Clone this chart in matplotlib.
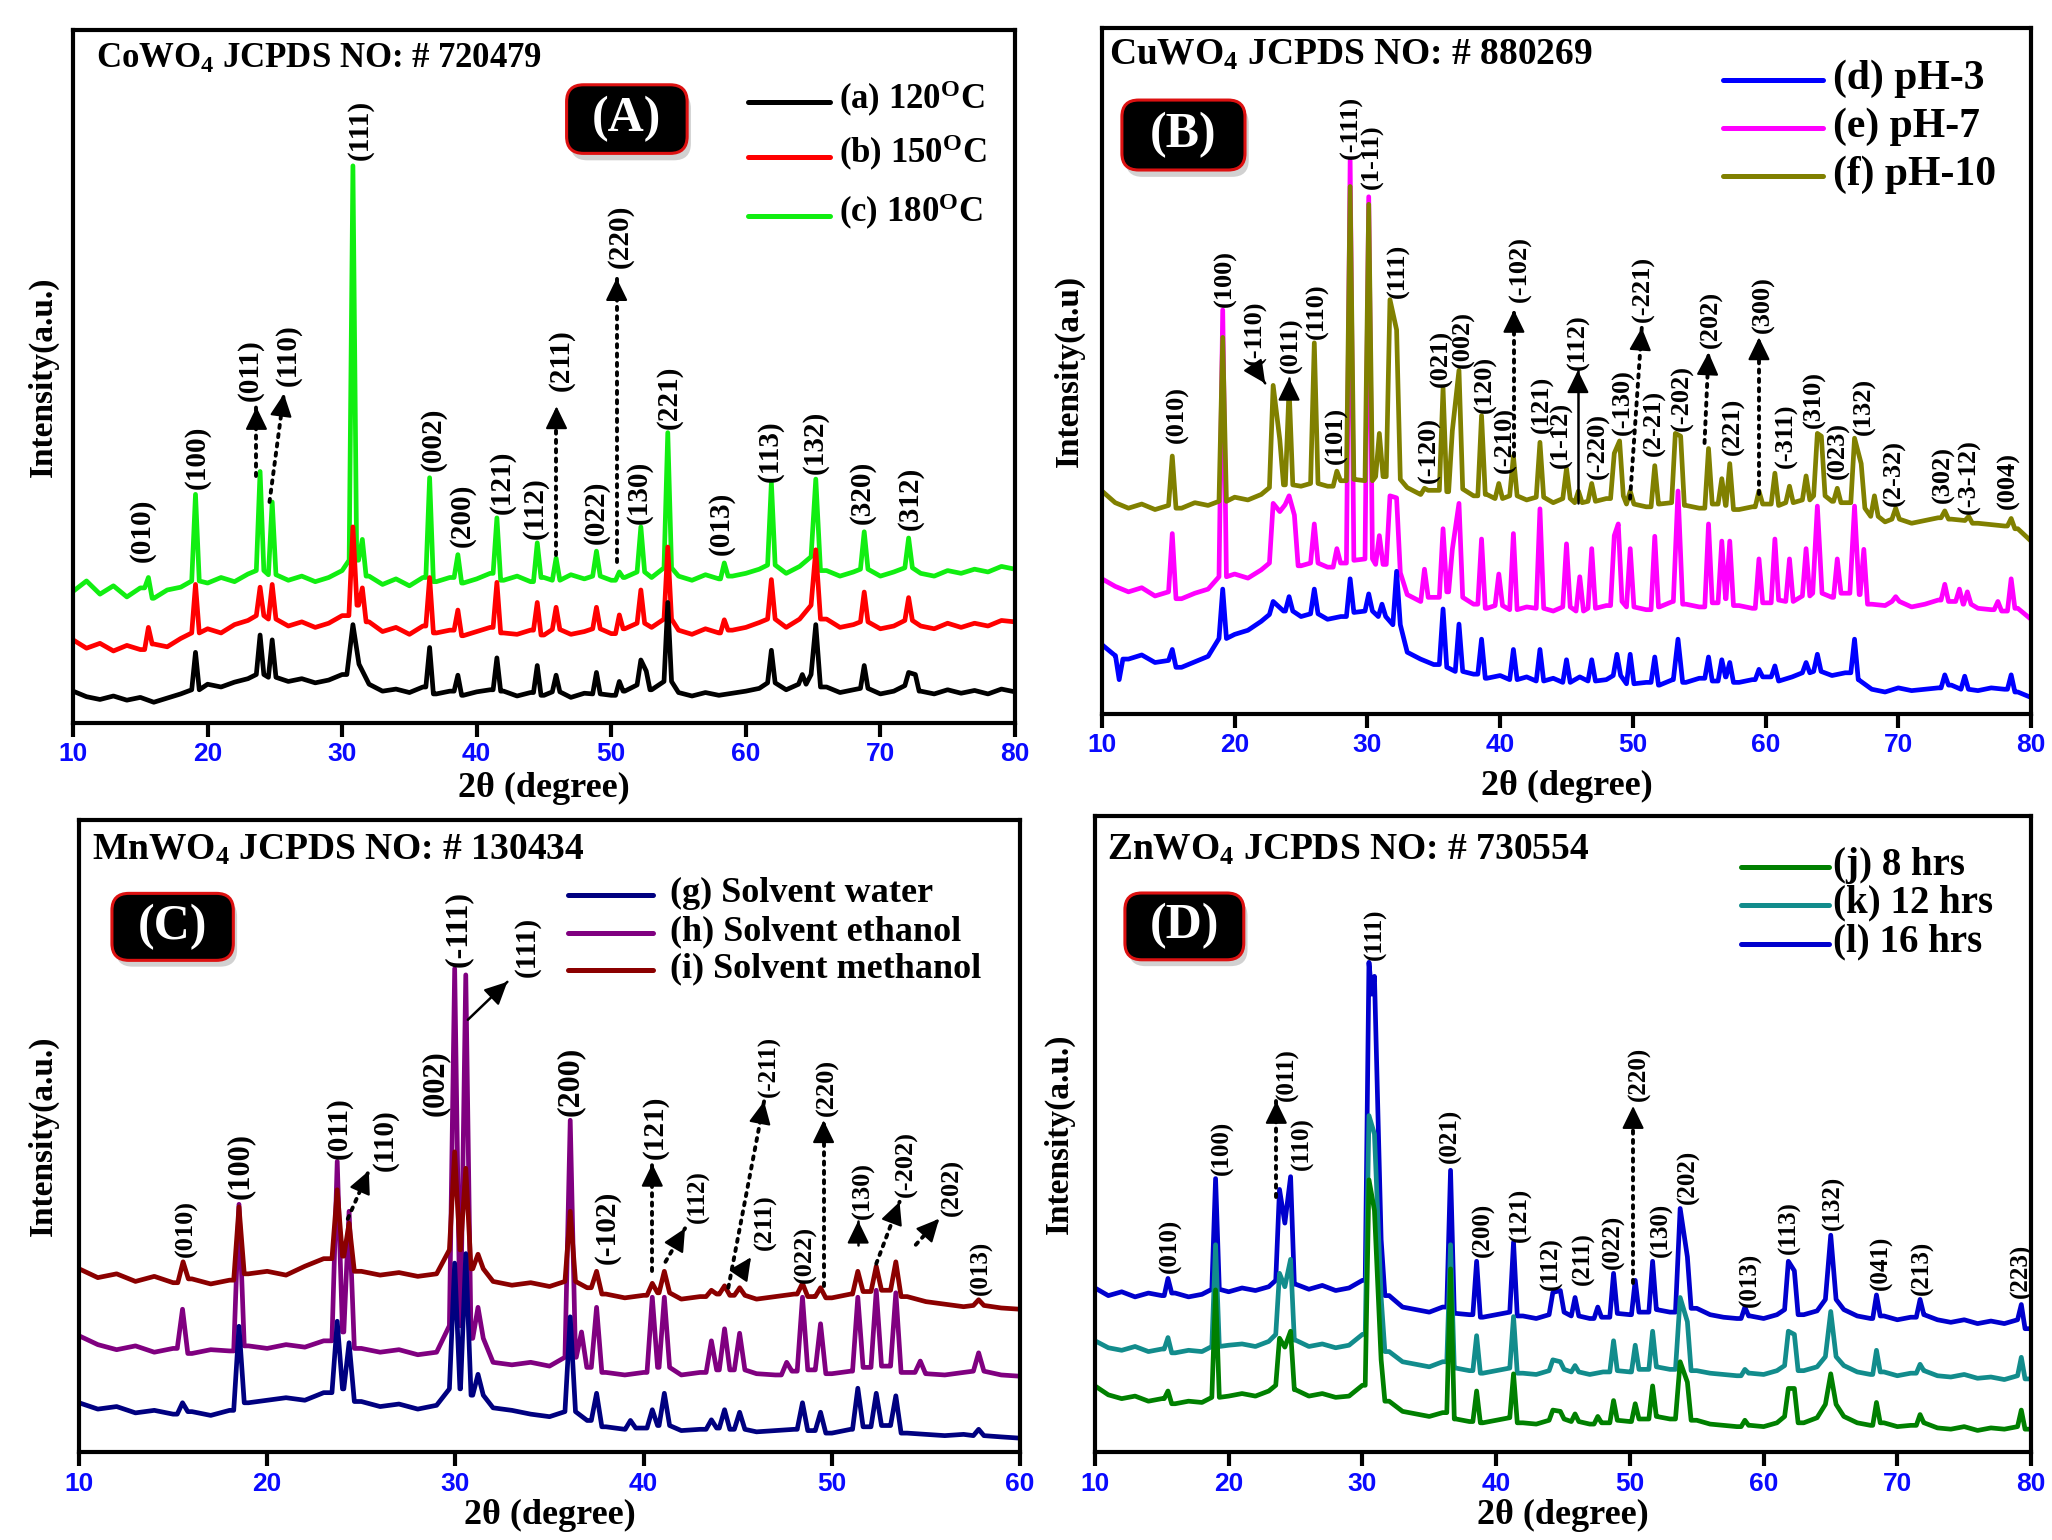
import numpy as np
import matplotlib
matplotlib.use('Agg')
import matplotlib.pyplot as plt
from matplotlib.patches import FancyBboxPatch
from matplotlib.transforms import offset_copy

plt.rcParams['font.family'] = ['Liberation Serif', 'DejaVu Serif']
plt.rcParams['font.weight'] = 'bold'
plt.rcParams['mathtext.fontset'] = 'custom'
plt.rcParams['mathtext.rm'] = 'Liberation Serif:bold'
plt.rcParams['mathtext.it'] = 'Liberation Serif:bold'
plt.rcParams['mathtext.bf'] = 'Liberation Serif:bold'

# ---------------- DATA (intensity in % of panel height, offsets included) -------------
# Panel A : CoWO4, baseline samples every 1 degree starting at 10
A_a_base = [4.6, 3.8, 3.4, 3.9, 3.3, 3.7, 3.0, 3.6, 4.2, 4.8,
            5.6, 5.2, 5.9, 6.4, 7.0, 6.6, 6.0, 6.4, 5.8, 6.2,
            7.0, 8.5, 5.6, 4.6, 4.9, 4.4, 5.2, 4.2, 4.6, 4.0,
            4.5, 4.8, 4.6, 3.9, 4.4, 4.0, 4.5, 3.7, 4.3, 4.2,
            4.0, 4.6, 5.5, 4.8, 6.0, 4.4, 3.9, 4.4, 4.0, 4.3,
            4.6, 5.0, 5.8, 4.8, 5.6, 7.0, 5.2, 4.4, 4.8, 5.0,
            4.2, 4.6, 5.4, 4.6, 4.2, 4.8, 4.3, 4.7, 4.2, 4.9,
            4.5]
A_a_peaks = [(19.1, 10.2), (23.9, 12.7), (24.8, 12.0), (30.8, 14.2, 0.45), (36.5, 10.9),
             (38.6, 6.9), (41.5, 9.4), (44.5, 8.3), (45.9, 6.9), (48.9, 7.3), (50.6, 6.0),
             (52.2, 9.1), (52.6, 7.5), (54.2, 17.4), (61.9, 10.5), (64.2, 7.0),
             (65.2, 14.2, 0.35), (68.8, 8.3), (72.1, 7.3), (72.6, 7.0)]
A_b_base = [12.0, 10.8, 11.5, 10.4, 11.2, 10.6, 11.4, 11.0, 12.2, 13.0,
            13.6, 13.0, 14.2, 14.8, 15.5, 15.0, 14.0, 14.6, 13.8, 14.4,
            15.5, 17.0, 14.6, 13.2, 13.8, 12.8, 14.0, 13.0, 13.4, 12.6,
            13.2, 13.8, 13.0, 12.8, 13.4, 12.7, 13.5, 12.8, 13.2, 13.6,
            12.9, 13.6, 14.4, 13.8, 15.0, 13.4, 12.8, 13.6, 13.0, 13.4,
            13.8, 14.5, 15.0, 13.8, 15.0, 17.0, 15.0, 13.8, 14.2, 14.6,
            13.6, 14.0, 14.8, 14.0, 13.6, 14.4, 13.8, 14.4, 14.0, 14.8,
            14.6]
A_b_peaks = [(15.6, 13.8), (19.1, 20.0), (23.9, 19.6), (24.8, 20.0), (30.8, 28.3, 0.3),
             (31.5, 19.5), (36.5, 21.0), (38.6, 16.3), (41.5, 20.3), (44.5, 17.4),
             (45.9, 16.7), (48.9, 16.7), (50.6, 15.6), (52.2, 19.2), (54.2, 25.4),
             (58.4, 14.9), (61.9, 20.7), (65.2, 25.0, 0.35), (68.8, 18.9), (72.1, 18.1)]
A_c_base = [19.0, 20.5, 18.6, 19.8, 18.2, 19.5, 18.0, 19.2, 19.6, 20.5,
            20.2, 21.0, 20.4, 21.5, 22.0, 21.4, 20.6, 21.2, 20.4, 21.0,
            22.0, 23.5, 21.2, 20.0, 20.8, 19.8, 21.0, 20.4, 21.0, 20.2,
            20.8, 21.6, 20.6, 21.2, 20.4, 21.0, 20.6, 21.4, 20.8, 21.2,
            20.6, 21.0, 21.8, 21.0, 22.4, 21.2, 20.6, 21.4, 20.8, 21.2,
            21.6, 22.2, 22.8, 21.6, 22.6, 24.0, 22.0, 21.2, 21.8, 22.2,
            21.2, 21.8, 22.4, 21.6, 21.2, 22.0, 21.6, 22.2, 21.8, 22.6,
            22.2]
A_c_peaks = [(15.6, 21.0), (19.1, 33.0), (23.9, 36.3), (24.8, 31.9), (30.8, 80.4),
             (31.5, 26.5), (36.5, 35.4), (38.6, 24.3), (41.5, 29.6), (44.5, 26.0),
             (45.9, 23.8), (48.9, 24.8), (50.6, 21.8), (52.2, 28.3), (54.2, 41.9),
             (58.4, 23.1), (61.9, 34.7), (65.2, 35.2, 0.35), (68.8, 27.6), (72.1, 26.7)]
A_labels = ['(a) 120$^{\\mathrm{O}}$C', '(b) 150$^{\\mathrm{O}}$C', '(c) 180$^{\\mathrm{O}}$C']
A_hkl = [('(010)', 15.11, 23.2), ('(100)', 19.25, 33.7), ('(011)', 23.14, 46.4),
         ('(110)', 25.97, 48.6), ('(111)', 31.32, 81.3), ('(002)', 36.77, 36.3),
         ('(200)', 38.96, 25.4), ('(121)', 41.89, 30.1), ('(112)', 44.32, 26.5),
         ('(211)', 46.27, 47.9), ('(022)', 48.85, 25.8), ('(220)', 50.65, 65.7),
         ('(130)', 52.11, 28.7), ('(221)', 54.3, 42.5), ('(013)', 58.19, 24.3),
         ('(113)', 61.84, 34.8), ('(132)', 65.15, 35.9), ('(320)', 68.66, 28.7),
         ('(312)', 72.21, 27.9)]
A_arrows = [(23.63, 35.6, 23.63, 45.6, True), (24.6, 31.9, 25.67, 47.5, True),
            (45.93, 24.3, 45.93, 45.7, True), (50.4, 23.2, 50.4, 64.2, True)]

# Panel B : CuWO4
B_d_base = [10.1, 8.5, 8.0, 8.6, 7.5, 7.8, 6.8, 7.6, 8.4, 11.0,
            11.6, 12.2, 13.5, 14.5, 15.0, 14.2, 14.6, 13.8, 14.2, 14.8,
            15.0, 14.2, 13.0, 9.0, 8.0, 7.2, 6.8, 6.2, 5.8, 5.2,
            5.6, 5.0, 5.4, 4.8, 5.2, 4.6, 5.4, 4.8, 5.0, 5.6,
            4.4, 4.6, 4.2, 5.0, 4.6, 5.2, 4.8, 5.4, 4.6, 5.0,
            5.4, 4.8, 5.4, 6.0, 6.2, 5.6, 6.0, 5.0, 3.6, 3.2,
            3.8, 3.4, 3.6, 3.8, 4.2, 3.6, 3.4, 3.8, 3.6, 3.2,
            2.4]
B_d_peaks = [(11.3, 5.0), (15.3, 9.4), (19.1, 18.2), (22.9, 16.4), (23.4, 15.5),
             (24.1, 17.1), (26.0, 18.2), (28.7, 19.7), (30.1, 17.5), (31.1, 16.0),
             (32.2, 20.8), (35.7, 15.3), (36.9, 13.1), (38.6, 10.9), (41.0, 9.4),
             (43.0, 9.4), (45.0, 7.9), (46.9, 7.9), (48.8, 8.7), (49.8, 8.7),
             (51.65, 8.3), (53.4, 10.9, 0.35), (55.7, 8.3), (56.7, 7.9), (57.3, 7.5),
             (59.5, 6.5), (60.7, 7.0), (63.05, 7.5), (63.9, 8.7), (66.7, 10.9),
             (73.5, 5.7), (75.0, 5.5), (78.5, 5.7)]
B_e_base = [19.7, 18.6, 17.8, 18.4, 17.2, 17.8, 16.8, 17.6, 18.2, 20.0,
            20.4, 19.8, 21.0, 22.0, 22.5, 21.6, 22.0, 21.4, 22.0, 22.4,
            22.6, 21.8, 20.6, 17.4, 16.4, 17.0, 17.8, 17.0, 16.0, 15.4,
            15.8, 15.2, 15.6, 15.4, 15.0, 15.6, 15.0, 15.4, 15.8, 16.4,
            15.6, 15.2, 15.6, 16.4, 16.0, 15.6, 16.2, 16.8, 15.8, 15.4,
            16.2, 16.6, 16.4, 17.2, 17.6, 17.0, 17.6, 17.4, 16.0, 15.8,
            16.4, 15.6, 16.0, 16.6, 16.4, 16.0, 15.4, 15.2, 15.0, 15.4,
            13.8]
B_e_peaks = [(15.3, 26.3), (19.1, 58.9), (22.9, 30.7), (23.4, 29.5), (23.8, 30.5),
             (24.1, 31.8), (24.5, 29.0), (26.0, 27.7), (27.7, 24.1), (28.7, 80.7),
             (30.1, 75.4), (30.9, 26.0), (31.7, 31.8), (32.2, 31.5), (34.3, 21.1),
             (35.7, 27.0), (36.4, 24.0), (36.9, 30.7), (38.6, 25.5), (39.9, 20.4),
             (41.0, 26.3), (43.0, 29.9), (45.0, 24.8), (46.0, 20.0), (46.9, 24.1),
             (48.6, 26.0), (48.9, 27.7), (49.8, 24.1), (51.65, 25.9), (53.4, 32.5, 0.35),
             (55.7, 27.7), (56.7, 25.2), (57.3, 25.2), (59.5, 22.6), (60.7, 25.5),
             (61.8, 22.6), (63.05, 24.1), (63.9, 30.3, 0.35), (65.4, 22.6),
             (66.7, 30.3, 0.35), (67.4, 24.0), (69.8, 17.1), (73.5, 18.9), (74.6, 18.2),
             (75.2, 17.8), (77.5, 16.4), (78.5, 19.7)]
B_f_base = [32.5, 30.8, 30.0, 30.6, 29.8, 30.4, 30.0, 30.8, 30.4, 31.0,
            31.6, 31.2, 32.0, 33.0, 33.4, 33.2, 33.6, 33.2, 34.0, 34.2,
            34.0, 34.6, 34.2, 33.0, 32.0, 32.6, 32.4, 32.8, 31.8, 32.0,
            31.4, 31.8, 31.2, 31.6, 30.8, 31.4, 30.8, 31.0, 31.4, 31.8,
            30.6, 30.2, 30.6, 30.8, 30.4, 30.0, 30.6, 30.4, 29.8, 30.2,
            30.6, 30.4, 30.8, 31.2, 31.8, 31.0, 30.8, 30.0, 28.8, 28.0,
            28.4, 27.8, 28.2, 28.6, 28.4, 28.2, 27.8, 27.6, 27.4, 27.0,
            25.2]
B_f_peaks = [(15.3, 37.6), (19.1, 54.9), (22.9, 47.9), (23.4, 40.0), (24.1, 47.5),
             (26.0, 54.1), (27.7, 35.4), (28.7, 76.9), (30.1, 74.3), (30.9, 40.9),
             (31.7, 60.4), (32.2, 56.0), (34.3, 32.9), (35.7, 47.5), (36.4, 41.3),
             (36.9, 50.1), (38.6, 43.5), (39.9, 33.6), (41.0, 37.6), (43.0, 39.6),
             (45.0, 35.8), (45.9, 32.5), (46.9, 33.6), (48.6, 38.0), (49.0, 39.8),
             (49.8, 32.5), (51.65, 36.2), (53.2, 40.9), (53.6, 40.5), (55.7, 38.7),
             (56.7, 34.3), (57.3, 36.5), (59.5, 32.5), (60.7, 35.1), (61.8, 33.2),
             (63.05, 34.7), (63.9, 40.9), (64.2, 40.5), (65.4, 32.9), (66.7, 40.2),
             (67.2, 36.5), (68.2, 31.8), (69.8, 30.0), (73.5, 29.6), (75.3, 28.8),
             (78.5, 28.5)]
B_labels = ['(d) pH-3', '(e) pH-7', '(f) pH-10']
B_hkl = [('(010)', 15.65, 39.5), ('(100)', 19.33, 59.3), ('(-110)', 21.54, 50.8),
         ('(011)', 24.24, 49.7), ('(110)', 26.21, 54.6), ('(101)', 27.68, 36.5),
         ('(-111)', 28.76, 80.9), ('(1-11)', 30.38, 76.5), ('(111)', 32.35, 60.7),
         ('(-120)', 34.66, 33.6), ('(021)', 35.54, 47.6), ('(002)', 37.26, 50.5),
         ('(120)', 38.88, 43.9), ('(-210)', 40.36, 35.1), ('(-102)', 41.54, 60.0),
         ('(121)', 43.16, 40.9), ('(1-12)', 44.63, 35.8), ('(112)', 45.86, 50.2),
         ('(-220)', 47.43, 34.3), ('(-130)', 49.3, 40.7), ('(-221)', 50.77, 57.1),
         ('(2-21)', 51.65, 37.6), ('(-202)', 53.72, 41.3), ('(202)', 55.93, 53.4),
         ('(221)', 57.55, 37.8), ('(300)', 59.86, 55.6), ('(-311)', 61.58, 35.8),
         ('(310)', 63.69, 41.7), ('(023)', 65.51, 34.3), ('(132)', 67.47, 40.6),
         ('(2-32)', 69.68, 30.3), ('(302)', 73.37, 30.7), ('(-3-12)', 75.33, 29.2),
         ('(004)', 78.28, 29.9)]
B_arrows = [(21.6, 50.2, 22.3, 48.2, False), (24.1, 46.3, 24.1, 49.0, False),
            (41.04, 37.6, 41.04, 58.9, True), (45.86, 30.7, 45.86, 50.1, False),
            (49.79, 31.4, 50.67, 56.3, True), (55.4, 39.5, 55.7, 52.7, True),
            (59.5, 32.1, 59.5, 54.9, True)]

# Panel C : MnWO4 (10-60)
C_g_base = [7.8, 6.8, 7.2, 6.2, 6.6, 6.0, 6.4, 5.8, 6.6, 7.8,
            8.2, 8.6, 8.2, 9.4, 10.0, 8.0, 7.2, 7.6, 6.8, 7.4,
            10.0, 9.0, 7.0, 6.6, 6.0, 5.6, 6.4, 5.0, 4.0, 3.6,
            3.8, 4.2, 3.4, 3.6, 3.8, 3.6, 3.2, 3.4, 3.6, 3.4,
            3.0, 3.6, 4.0, 4.2, 3.0, 2.8, 2.6, 2.8, 2.6, 2.4,
            2.2]
C_g_peaks = [(15.5, 7.8), (18.5, 19.9), (23.72, 20.7), (24.35, 17.3), (29.96, 29.9),
             (30.55, 31.4), (31.2, 12.3), (36.1, 21.4), (37.5, 9.3), (39.3, 5.0),
             (40.46, 6.7), (41.1, 9.3), (43.6, 5.1), (44.3, 6.7), (45.1, 6.3),
             (48.44, 7.8), (49.4, 6.3), (51.38, 10.1), (52.36, 9.3), (53.4, 8.9),
             (57.8, 3.6)]
C_h_base = [18.4, 17.0, 16.2, 16.8, 15.8, 16.4, 15.6, 16.2, 16.0, 16.8,
            16.4, 17.0, 16.6, 17.6, 19.0, 16.4, 15.8, 16.2, 15.4, 15.8,
            20.0, 18.0, 14.2, 13.8, 14.2, 13.6, 15.0, 13.4, 12.6, 12.2,
            12.6, 13.4, 12.2, 12.6, 13.0, 13.0, 12.4, 12.2, 12.8, 13.0,
            12.4, 12.8, 13.4, 13.6, 12.6, 12.4, 12.2, 12.6, 12.8, 12.2,
            12.0]
C_h_peaks = [(15.5, 22.6), (18.5, 39.2), (23.72, 46.0), (24.35, 38.1), (29.96, 76.5),
             (30.55, 75.5), (31.2, 22.9), (36.1, 52.5), (36.7, 19.0), (37.5, 22.9),
             (40.46, 24.5), (41.1, 24.5), (43.6, 17.6), (44.3, 19.5), (45.1, 18.8),
             (47.6, 14.2), (48.44, 24.5), (49.4, 20.3), (51.38, 24.5), (52.36, 25.6),
             (53.4, 25.2), (54.7, 14.4), (57.8, 15.7)]
C_i_base = [29.0, 27.6, 28.2, 27.0, 27.8, 26.8, 27.4, 26.6, 27.2, 28.2,
            28.6, 28.0, 29.4, 30.6, 31.0, 28.6, 28.0, 28.4, 27.8, 28.2,
            32.0, 29.0, 27.0, 26.4, 26.8, 26.2, 27.0, 26.0, 25.0, 24.4,
            24.8, 25.2, 24.2, 24.6, 25.0, 24.8, 24.2, 24.6, 25.0, 24.6,
            24.4, 25.0, 25.4, 25.6, 24.6, 23.8, 23.4, 23.0, 23.2, 22.8,
            22.6]
C_i_peaks = [(15.53, 30.1), (18.5, 38.8), (23.72, 41.5), (24.35, 36.2), (29.96, 47.5),
             (30.55, 44.9), (31.2, 31.3), (36.1, 38.1), (37.5, 28.6), (40.46, 26.7),
             (41.1, 28.6), (43.6, 25.6), (44.3, 26.3), (45.1, 26.0), (48.44, 26.7),
             (49.4, 26.0), (51.38, 28.6), (52.36, 29.4), (53.4, 30.1), (57.8, 24.1)]
C_labels = ['(g) Solvent water', '(h) Solvent ethanol', '(i) Solvent methanol']
C_hkl = [('(010)', 15.71, 30.9, 19), ('(100)', 18.58, 40.0, 22), ('(011)', 23.83, 46.4, 21),
         ('(110)', 26.28, 44.5, 21), ('(002)', 28.91, 53.2, 22), ('(-111)', 30.13, 76.7, 23),
         ('(111)', 33.81, 75.2, 21), ('(200)', 36.12, 53.2, 23), ('(-102)', 38.08, 29.8, 21),
         ('(121)', 40.63, 46.4, 21), ('(112)', 42.91, 36.2, 18), ('(-211)', 46.69, 56.2, 18),
         ('(211)', 46.48, 32.0, 19), ('(220)', 49.74, 53.2, 19), ('(022)', 48.58, 26.7, 19),
         ('(130)', 51.66, 36.9, 19), ('(-202)', 53.94, 40.3, 19), ('(202)', 56.39, 37.3, 19),
         ('(013)', 57.96, 24.8, 18)]
C_arrows = [(24.28, 36.9, 25.4, 44.5, True), (30.66, 68.4, 32.76, 74.4, False),
            (40.46, 28.6, 40.46, 45.6, True), (41.16, 30.1, 42.2, 35.4, True),
            (44.5, 26.0, 46.4, 55.5, True), (45.2, 28.6, 45.7, 30.8, True),
            (49.56, 26.3, 49.56, 52.5, True), (51.4, 32.8, 51.4, 36.6, False),
            (52.36, 29.8, 53.6, 39.6, True), (54.46, 32.8, 55.7, 36.9, True)]

# Panel D : ZnWO4
D_j_base = [10.4, 9.0, 8.4, 8.8, 8.0, 8.4, 7.6, 8.0, 7.8, 8.6,
            8.8, 9.2, 8.8, 9.6, 10.5, 9.8, 8.8, 9.2, 8.6, 8.8,
            10.5, 14.0, 8.0, 6.4, 6.0, 5.6, 6.2, 5.2, 4.8, 4.6,
            5.0, 5.4, 4.6, 4.4, 5.0, 5.2, 4.8, 4.4, 4.6, 5.0,
            4.8, 5.2, 5.6, 5.2, 7.0, 5.0, 4.4, 4.2, 4.0, 4.2,
            4.0, 4.6, 5.6, 4.6, 5.4, 7.5, 5.6, 4.6, 4.2, 4.6,
            4.0, 4.2, 4.6, 3.8, 3.6, 4.0, 3.4, 3.8, 3.6, 4.0,
            3.6]
D_j_peaks = [(15.46, 9.6), (19.02, 25.5), (23.8, 17.9), (24.2, 16.5), (24.63, 19.0),
             (30.49, 42.8), (30.9, 38.0), (31.4, 14.5), (36.59, 28.8), (38.54, 9.6),
             (41.3, 12.3), (44.24, 6.6), (44.8, 6.4), (45.9, 6.0), (47.6, 5.6),
             (48.78, 8.1), (50.4, 7.6), (51.7, 10.4), (53.76, 14.2, 0.35), (54.3, 11.0),
             (58.6, 5.0), (61.85, 10.0), (62.3, 10.0), (65.02, 12.3, 0.4), (68.44, 7.8),
             (71.7, 5.9), (79.27, 6.6)]
D_k_base = [17.5, 16.4, 16.0, 16.6, 15.8, 16.2, 15.6, 16.0, 15.8, 16.6,
            16.8, 17.0, 16.6, 17.4, 18.5, 17.6, 16.6, 17.0, 16.4, 16.8,
            18.5, 22.0, 15.8, 14.2, 13.8, 13.4, 14.2, 13.2, 12.8, 12.4,
            12.8, 13.2, 12.4, 12.2, 12.8, 13.0, 12.6, 12.2, 12.6, 12.8,
            12.6, 13.0, 13.4, 13.0, 14.5, 12.8, 12.4, 12.2, 12.0, 12.4,
            12.2, 12.8, 13.6, 12.8, 13.4, 15.0, 13.6, 12.6, 12.2, 12.6,
            12.0, 12.4, 12.8, 12.0, 11.8, 12.2, 11.6, 11.8, 11.4, 12.0,
            11.5]
D_k_peaks = [(15.46, 18.0), (19.02, 32.6), (23.8, 28.1), (24.2, 26.0), (24.63, 30.3),
             (30.49, 52.9), (30.9, 50.0), (31.4, 24.3), (36.59, 32.6), (38.54, 18.3),
             (41.3, 21.3), (44.24, 14.5), (44.8, 14.2), (45.9, 13.6), (48.78, 17.5),
             (50.4, 16.8), (51.7, 19.0), (53.76, 24.3, 0.35), (54.3, 20.5), (58.6, 13.0),
             (61.85, 19.0), (62.3, 18.5), (65.02, 22.1, 0.4), (68.44, 16.0), (71.7, 13.8),
             (79.27, 14.9)]
D_l_base = [25.8, 24.6, 25.2, 24.4, 25.0, 24.6, 25.0, 24.4, 24.8, 25.6,
            25.2, 25.8, 25.4, 26.0, 27.0, 26.4, 25.6, 26.2, 25.4, 25.8,
            27.0, 30.0, 24.6, 22.8, 22.4, 22.0, 22.8, 21.8, 21.6, 21.2,
            21.6, 22.0, 21.4, 21.0, 21.6, 22.0, 21.4, 21.0, 21.2, 21.8,
            21.6, 22.0, 22.4, 22.0, 24.0, 22.6, 21.6, 21.2, 21.0, 21.4,
            21.0, 21.6, 22.4, 21.6, 22.2, 24.0, 22.4, 21.4, 21.0, 21.4,
            20.8, 21.2, 21.6, 20.8, 20.4, 20.8, 20.2, 20.6, 20.2, 20.8,
            19.4]
D_l_peaks = [(15.46, 27.3), (19.02, 43.0), (23.8, 41.3), (24.2, 36.0), (24.63, 43.3),
             (30.49, 77.0), (30.7, 72.0), (30.9, 74.8), (31.4, 33.4), (36.59, 44.3),
             (38.54, 30.0), (41.3, 33.0), (44.24, 25.1), (44.8, 25.4), (45.9, 24.3),
             (47.6, 22.8), (48.78, 28.1), (50.4, 27.0), (51.7, 30.0), (53.76, 38.3, 0.35),
             (54.3, 30.7), (58.6, 22.8), (61.85, 30.0), (62.3, 28.5), (65.02, 34.1, 0.4),
             (68.44, 24.7), (71.7, 24.0), (79.27, 23.2)]
D_labels = ['(j) 8 hrs', '(k) 12 hrs', '(l) 16 hrs']
D_hkl = [('(010)', 15.61, 28.1), ('(100)', 19.51, 43.5), ('(011)', 24.39, 55.2),
         ('(110)', 25.51, 44.3), ('(111)', 30.98, 77.4), ('(021)', 36.59, 45.4),
         ('(200)', 39.02, 30.7), ('(121)', 41.8, 33.0), ('(112)', 44.15, 25.5),
         ('(211)', 46.49, 26.2), ('(022)', 48.78, 28.8), ('(220)', 50.73, 55.2),
         ('(130)', 52.34, 30.7), ('(202)', 54.39, 39.0), ('(013)', 59.02, 22.8),
         ('(113)', 61.95, 31.1), ('(132)', 65.22, 34.9), ('(041)', 68.78, 25.5),
         ('(213)', 71.85, 24.7), ('(223)', 79.27, 24.3)]
D_arrows = [(23.56, 40.1, 23.56, 55.2, True), (50.24, 26.6, 50.24, 54.4, True)]

X_START = 10

# ---------------- helpers -----------------
def trace(base, peaks, hw_default=0.28):
    bx = X_START + np.arange(len(base))
    pk = sorted(peaks, key=lambda p: p[0])
    hws = [p[2] if len(p) > 2 else hw_default for p in pk]
    pts = [(x, y) for x, y in zip(bx, base)
           if all(abs(x - p[0]) > w for p, w in zip(pk, hws))]

    def nearest(xv):
        i = int(round(xv - X_START))
        return base[min(max(i, 0), len(base) - 1)]

    for i, p in enumerate(pk):
        c, h, w = p[0], p[1], hws[i]
        pts.append((c, h))
        if i == 0 or pk[i - 1][0] + hws[i - 1] <= c - w:
            pts.append((c - w, nearest(c - w)))
        if i == len(pk) - 1 or pk[i + 1][0] - hws[i + 1] >= c + w:
            pts.append((c + w, nearest(c + w)))
    pts.sort(key=lambda t: t[0])
    xs, ys = zip(*pts)
    return np.array(xs), np.array(ys)


fig = plt.figure(figsize=(20.52, 15.40), dpi=100)
TICK_BLUE = '#0a0aff'


def make_panel(rect, xmax, ylabel, ylab_x, xlab_y):
    ax = fig.add_axes(rect)
    ax.set_xlim(10, xmax)
    ax.set_ylim(0, 100)
    for s in ax.spines.values():
        s.set_linewidth(3)
    ax.set_yticks([])
    ax.set_xticks(np.arange(10, xmax + 1, 10))
    ax.tick_params(axis='x', direction='out', length=10, width=3, pad=4,
                   labelsize=19, labelcolor=TICK_BLUE)
    for lab in ax.get_xticklabels():
        lab.set_fontfamily('Liberation Sans')
        lab.set_fontweight('bold')
    ax.set_xlabel('2θ (degree)', fontsize=26, fontweight='bold', va='center')
    ax.xaxis.set_label_coords(0.5, xlab_y)
    ax.set_ylabel(ylabel, fontsize=24, fontweight='bold', va='center')
    ax.yaxis.set_label_coords(ylab_x, 0.5)
    return ax


def draw_box(ax, x0, y0, x1, y1, text):
    bb = ax.get_position()
    W = bb.width * fig.get_figwidth() * fig.dpi
    H = bb.height * fig.get_figheight() * fig.dpi
    asp = W / H
    sh = FancyBboxPatch((x0 + 0.004, y0 - 0.010), x1 - x0, y1 - y0,
                        boxstyle='round,pad=0,rounding_size=0.018', mutation_aspect=asp,
                        transform=ax.transAxes, fc='#9a9a9a', ec='none', alpha=0.45,
                        zorder=5)
    ax.add_patch(sh)
    p = FancyBboxPatch((x0, y0), x1 - x0, y1 - y0,
                       boxstyle='round,pad=0,rounding_size=0.018', mutation_aspect=asp,
                       transform=ax.transAxes, fc='black', ec='#dd1111', lw=2.2, zorder=6)
    ax.add_patch(p)
    ax.text((x0 + x1) / 2, (y0 + y1) / 2, text, transform=ax.transAxes, color='white',
            fontsize=36, fontweight='bold', ha='center', va='center', zorder=7)


def draw_legend(ax, colors, labels, lx0, lx1, tx, rows, fs):
    for c, lab, r in zip(colors, labels, rows):
        ax.plot([lx0, lx1], [r, r], color=c, lw=3.6, transform=ax.transAxes,
                solid_capstyle='round', zorder=6)
        tr = offset_copy(ax.transAxes, fig=fig, y=-0.2 * fs, units='points')
        ax.text(tx, r, lab, transform=tr, fontsize=fs, fontweight='bold',
                ha='left', va='baseline', zorder=6)


def draw_hkl(ax, items, fs_default):
    for it in items:
        fs = it[3] if len(it) > 3 else fs_default
        ax.text(it[1], it[2], it[0], rotation=90, ha='center', va='bottom',
                fontsize=fs, fontweight='bold', zorder=4)


def draw_arrows(ax, arrows):
    for x0, y0, x1, y1, dotted in arrows:
        ls = (0, (0.8, 1.6)) if dotted else '-'
        ax.plot([x0, x1], [y0, y1], color='k', lw=2.8 if dotted else 1.8, ls=ls,
                zorder=4, solid_capstyle='round', dash_capstyle='round')
        p0 = ax.transData.transform((x0, y0))
        p1 = ax.transData.transform((x1, y1))
        d = p1 - p0
        u = d / np.hypot(*d)
        ax.annotate('', xy=(x1, y1), xytext=(-u[0] * 14, -u[1] * 14),
                    textcoords='offset pixels',
                    arrowprops=dict(arrowstyle='-|>,head_length=0.7,head_width=0.34',
                                    color='k', lw=1.5, mutation_scale=20,
                                    shrinkA=0, shrinkB=0), zorder=4)


def draw_series(ax, series):
    for base, peaks, color in series:
        xs, ys = trace(base, peaks)
        ax.plot(xs, ys, color=color, lw=3.4, zorder=2, solid_joinstyle='round')


# ---------------- Panel A ----------------
axA = make_panel([0.0356, 0.5305, 0.4590, 0.4500], 80, 'Intensity(a.u.)', -0.032, -0.095)
A_cols = ['#000000', '#ff0000', '#11ee11']
draw_series(axA, [(A_c_base, A_c_peaks, A_cols[2]), (A_b_base, A_b_peaks, A_cols[1]),
                  (A_a_base, A_a_peaks, A_cols[0])])
draw_hkl(axA, A_hkl, 21)
draw_arrows(axA, A_arrows)
axA.text(0.024, 0.945, 'CoWO$_{4}$ JCPDS NO: # 720479', transform=axA.transAxes,
         fontsize=25, fontweight='bold', va='baseline')
draw_box(axA, 0.524, 0.822, 0.652, 0.921, '(A)')
draw_legend(axA, A_cols, A_labels, 0.7166, 0.8036, 0.813, [0.896, 0.817, 0.732], 25)

# ---------------- Panel B ----------------
axB = make_panel([0.5370, 0.5364, 0.4528, 0.4454], 80, 'Intensity(a.u)', -0.0355, -0.106)
B_cols = ['#0000ff', '#ff00ff', '#808000']
draw_series(axB, [(B_e_base, B_e_peaks, B_cols[1]), (B_f_base, B_f_peaks, B_cols[2]),
                  (B_d_base, B_d_peaks, B_cols[0])])
draw_hkl(axB, B_hkl, 19)
draw_arrows(axB, B_arrows)
axB.text(0.0075, 0.946, 'CuWO$_{4}$ JCPDS NO: # 880269', transform=axB.transAxes,
         fontsize=27, fontweight='bold', va='baseline')
draw_box(axB, 0.0215, 0.793, 0.154, 0.895, '(B)')
draw_legend(axB, B_cols, B_labels, 0.668, 0.776, 0.787, [0.924, 0.854, 0.784], 30)

# ---------------- Panel C ----------------
axC = make_panel([0.0385, 0.0571, 0.4586, 0.4104], 60, 'Intensity(a.u.)', -0.038, -0.100)
C_cols = ['#000080', '#800080', '#8b0000']
draw_series(axC, [(C_h_base, C_h_peaks, C_cols[1]), (C_i_base, C_i_peaks, C_cols[2]),
                  (C_g_base, C_g_peaks, C_cols[0])])
draw_hkl(axC, C_hkl, 19)
draw_arrows(axC, C_arrows)
axC.text(0.0138, 0.938, 'MnWO$_{4}$ JCPDS NO: # 130434', transform=axC.transAxes,
         fontsize=27, fontweight='bold', va='baseline')
draw_box(axC, 0.035, 0.778, 0.164, 0.884, '(C)')
draw_legend(axC, C_cols, C_labels, 0.52, 0.61, 0.628, [0.881, 0.821, 0.763], 26)

# ---------------- Panel D ----------------
axD = make_panel([0.5336, 0.0571, 0.4562, 0.4130], 80, 'Intensity(a.u.)', -0.0385, -0.100)
D_cols = ['#008000', '#128c8c', '#0000cd']
draw_series(axD, [(D_l_base, D_l_peaks, D_cols[2]), (D_k_base, D_k_peaks, D_cols[1]),
                  (D_j_base, D_j_peaks, D_cols[0])])
draw_hkl(axD, D_hkl, 18)
draw_arrows(axD, D_arrows)
axD.text(0.0128, 0.932, 'ZnWO$_{4}$ JCPDS NO: # 730554', transform=axD.transAxes,
         fontsize=27, fontweight='bold', va='baseline')
draw_box(axD, 0.032, 0.774, 0.159, 0.879, '(D)')
draw_legend(axD, D_cols, D_labels, 0.690, 0.784, 0.788, [0.920, 0.860, 0.799], 28)

fig.savefig('out.png', dpi=100)
